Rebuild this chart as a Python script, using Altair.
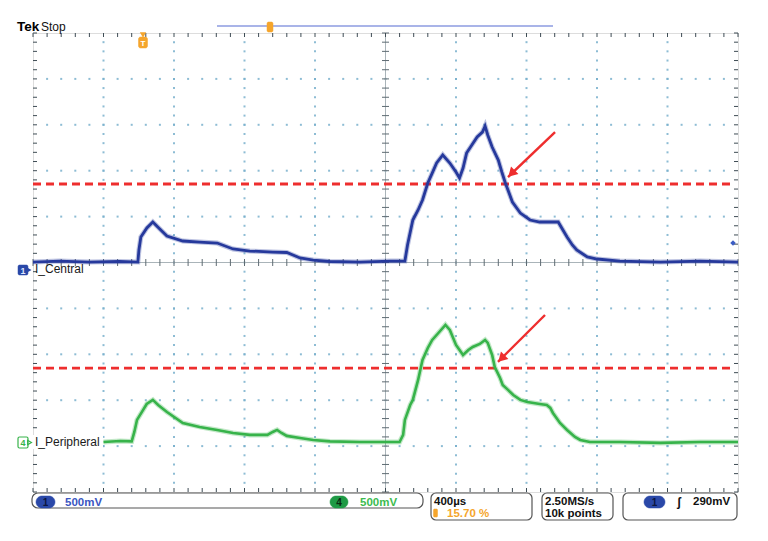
import altair as alt
import pandas as pd
import numpy as np

# ---------------- data (time in µs, probe voltage in mV) ----------------
ch1_time = [0, 150, 320, 490, 595, 601, 612, 646, 680, 708, 760, 850, 945, 1045, 1135, 1230,
            1360, 1440, 1475, 1515, 1590, 1685, 1855, 2025, 2110, 2125, 2155, 2185, 2210, 2240,
            2265, 2290, 2325, 2365, 2400, 2420, 2440, 2460, 2490, 2520, 2550, 2565, 2580, 2605,
            2640, 2660, 2680, 2720, 2765, 2820, 2875, 2915, 2980, 3000, 3030, 3060, 3085, 3145,
            3200, 3330, 3560, 3785, 4000]
ch1_mv = [5, 16, 5, 11, 5, 136, 278, 376, 441, 387, 289, 234, 223, 212, 147, 125,
          114, 109, 82, 49, 27, 11, 5, 16, 16, 191, 463, 572, 681, 866,
          974, 1084, 1171, 1084, 986, 920, 1029, 1192, 1280, 1367, 1421, 1486, 1389, 1258,
          1116, 986, 866, 659, 539, 463, 441, 441, 441, 376, 278, 191, 136, 60,
          38, 16, 5, 16, 5]

ch4_time = [400, 495, 560, 575, 590, 625, 645, 680, 710, 760, 850, 945, 1045, 1135, 1230, 1330,
            1360, 1385, 1410, 1440, 1515, 1590, 1685, 1855, 2080, 2100, 2110, 2140, 2155, 2185,
            2210, 2240, 2265, 2300, 2340, 2365, 2400, 2440, 2470, 2495, 2535, 2565, 2580, 2605,
            2620, 2650, 2665, 2695, 2725, 2765, 2805, 2875, 2915, 2935, 2950, 2990, 3030, 3075,
            3105, 3160, 3330, 3560, 3785, 4000]
ch4_mv = [5, 16, 11, 114, 245, 354, 419, 463, 408, 332, 212, 169, 136, 103, 82, 82,
          114, 136, 103, 71, 49, 27, 11, 5, 5, 82, 245, 408, 463, 681,
          898, 1029, 1116, 1192, 1280, 1225, 1062, 953, 1007, 1040, 1073, 1116, 1084, 953,
          822, 702, 626, 572, 517, 463, 441, 419, 408, 376, 321, 212, 136, 60,
          27, 5, 5, -5, 5, 5]

threshold_mv = [855, 810]            # red dashed levels (ch1, ch4)
arrow_tail_time = [2962, 2905]
arrow_tail_mv = [1421, 1388]
arrow_head_time = [2695, 2638]
arrow_head_mv = [931, 877]

# scope settings
VOLTS_PER_DIV = 500.0
US_PER_DIV = 400.0
ch_offset_div = [0.0, -3.92]         # ground position of ch1 / ch4 in divisions

W, H = 705, 459
xs = alt.Scale(domain=[0, 10 * US_PER_DIV], nice=False, zero=False)
ys = alt.Scale(domain=[-5, 5], nice=False, zero=False)


def X(f):
    return alt.X(f, type="quantitative", scale=xs, axis=None)


def Y(f):
    return alt.Y(f, type="quantitative", scale=ys, axis=None)


one = pd.DataFrame({"k": [0]})

# ---------------- tables ----------------
ch1 = pd.DataFrame({"t": ch1_time, "mv": ch1_mv})
ch1["div"] = ch1["mv"] / VOLTS_PER_DIV + ch_offset_div[0]
ch4 = pd.DataFrame({"t": ch4_time, "mv": ch4_mv})
ch4["div"] = ch4["mv"] / VOLTS_PER_DIV + ch_offset_div[1]

thr = pd.DataFrame({"div": [threshold_mv[0] / VOLTS_PER_DIV + ch_offset_div[0],
                            threshold_mv[1] / VOLTS_PER_DIV + ch_offset_div[1]]})

arrows = []
heads = []
for i in range(2):
    arrows.append({"id": i, "t": arrow_tail_time[i], "div": arrow_tail_mv[i] / VOLTS_PER_DIV + ch_offset_div[i]})
    arrows.append({"id": i, "t": arrow_head_time[i], "div": arrow_head_mv[i] / VOLTS_PER_DIV + ch_offset_div[i]})
    heads.append({"t": arrow_head_time[i], "div": arrow_head_mv[i] / VOLTS_PER_DIV + ch_offset_div[i]})
arrows = pd.DataFrame(arrows)
heads = pd.DataFrame(heads)

# graticule
minor_t = np.round(np.arange(0, 10 * US_PER_DIV + 1, US_PER_DIV / 5), 3)
minor_d = np.round(np.arange(-5, 5.001, 0.2), 3)
pts = []
for d in range(-4, 5):
    if d == 0:
        continue
    for t in minor_t[1:-1]:
        pts.append({"t": t, "div": d})
for k in range(1, 10):
    if k == 5:
        continue
    for d in minor_d[1:-1]:
        pts.append({"t": k * US_PER_DIV, "div": d})
grid = pd.DataFrame(pts)
tick_t = pd.DataFrame({"t": minor_t})
tick_d = pd.DataFrame({"div": minor_d})

BORDER = "#3e4c54"
TICK = "#5e6b72"
RED = "#ee2e2e"
BLUE = "#26399c"
GREEN = "#37b34a"
ORANGE = "#f5a52c"
FONT = "Liberation Sans"

layers = []
# grid dots
layers.append(alt.Chart(grid).mark_square(size=4, color="#79b0cd", opacity=0.85).encode(x=X("t"), y=Y("div")))
# center lines
layers.append(alt.Chart(pd.DataFrame({"t": [5 * US_PER_DIV]})).mark_rule(color="#aab4b9", strokeWidth=1)
              .encode(x=X("t"), y=alt.value(0), y2=alt.value(H)))
layers.append(alt.Chart(pd.DataFrame({"div": [0]})).mark_rule(color="#aab4b9", strokeWidth=1)
              .encode(y=Y("div"), x=alt.value(0), x2=alt.value(W)))
# ticks on center lines
layers.append(alt.Chart(tick_t).mark_rule(color=TICK, strokeWidth=1)
              .encode(x=X("t"), y=alt.value(H / 2 - 3.5), y2=alt.value(H / 2 + 3.5)))
layers.append(alt.Chart(tick_d).mark_rule(color=TICK, strokeWidth=1)
              .encode(y=Y("div"), x=alt.value(W / 2 - 3.5), x2=alt.value(W / 2 + 3.5)))
# ticks on borders
layers.append(alt.Chart(tick_t).mark_rule(color=BORDER, strokeWidth=1)
              .encode(x=X("t"), y=alt.value(0), y2=alt.value(4)))
layers.append(alt.Chart(tick_t).mark_rule(color=BORDER, strokeWidth=1)
              .encode(x=X("t"), y=alt.value(H - 4), y2=alt.value(H)))
layers.append(alt.Chart(tick_d).mark_rule(color=BORDER, strokeWidth=1)
              .encode(y=Y("div"), x=alt.value(0), x2=alt.value(4)))
layers.append(alt.Chart(tick_d).mark_rule(color=BORDER, strokeWidth=1)
              .encode(y=Y("div"), x=alt.value(W - 4), x2=alt.value(W)))
# red threshold lines
layers.append(alt.Chart(thr).mark_rule(color=RED, strokeWidth=2.8, strokeDash=[8, 5])
              .encode(y=Y("div"), x=alt.value(0), x2=alt.value(W - 6)))
# traces (a soft wide band under a solid core, like the noisy scope trace)
layers.append(alt.Chart(ch1).mark_line(color=BLUE, strokeWidth=5, opacity=0.3).encode(x=X("t"), y=Y("div")))
layers.append(alt.Chart(ch1).mark_line(color=BLUE, strokeWidth=2.8).encode(x=X("t"), y=Y("div")))
layers.append(alt.Chart(ch4).mark_line(color=GREEN, strokeWidth=5, opacity=0.3).encode(x=X("t"), y=Y("div")))
layers.append(alt.Chart(ch4).mark_line(color=GREEN, strokeWidth=2.6).encode(x=X("t"), y=Y("div")))
# arrows
layers.append(alt.Chart(arrows).mark_line(color=RED, strokeWidth=2.4)
              .encode(x=X("t"), y=Y("div"), detail="id:N"))
layers.append(alt.Chart(heads).mark_point(shape="triangle-up", angle=225, filled=True, size=110,
                                          color=RED, opacity=1, xOffset=3.5, yOffset=-3.5)
              .encode(x=X("t"), y=Y("div")))


def txt(s, x, y, color="#111111", size=12, weight="normal", align="left", font=FONT):
    return alt.Chart(one).mark_text(text=s, align=align, baseline="alphabetic", fontSize=size,
                                    fontWeight=weight, color=color, font=font).encode(
        x=alt.value(x), y=alt.value(y))


def box(x1, x2, y1, y2, fill="white", stroke="#555555", r=5, sw=1.2):
    return alt.Chart(one).mark_rect(fill=fill, stroke=stroke, strokeWidth=sw, cornerRadius=r).encode(
        x=alt.value(x1), x2=alt.value(x2), y=alt.value(y1), y2=alt.value(y2))


def pt(x, y, shape, color, size, filled=True, angle=0):
    return alt.Chart(one).mark_point(shape=shape, filled=filled, color=color, size=size, opacity=1,
                                     angle=angle, strokeWidth=1.2).encode(x=alt.value(x), y=alt.value(y))


# header
layers.append(txt("Tek", -16, -2, "#000000", 13.5, "bold"))
layers.append(txt("Stop", 8, -2, "#111111", 12))
layers.append(alt.Chart(one).mark_rule(color="#8c9be0", strokeWidth=1.5)
              .encode(x=alt.value(184), x2=alt.value(520), y=alt.value(-7)))
layers.append(box(234, 240, -11, -1, fill=ORANGE, stroke=ORANGE, r=1.5, sw=0.5))
# trigger position marker
layers.append(pt(110, 2, "triangle-down", ORANGE, 40))
layers.append(box(105.5, 114.5, 4, 15, fill=ORANGE, stroke=ORANGE, r=2, sw=0.5))
layers.append(txt("T", 110, 13, "white", 8, "bold", "center"))
# ch1 trigger level marker on right
layers.append(pt(700, 210, "diamond", "#3b5cc4", 30))

# channel ground markers and labels
layers.append(box(-15, -5, 232, 242, fill="#2a48a8", stroke="#2a48a8", r=1.5, sw=0.5))
layers.append(pt(-3.5, 237, "triangle-right", "#2a48a8", 22))
layers.append(txt("1", -10, 240.5, "#dfe6ff", 9, "bold", "center"))
layers.append(txt("I_Central", 2, 240, "#1a1a1a", 12))

layers.append(alt.Chart(pd.DataFrame({"k": [0]})).mark_rect(fill="white")
              .encode(x=alt.value(0), x2=alt.value(70), y=alt.value(402), y2=alt.value(416)))
layers.append(box(-15, -5, 404, 415, fill="white", stroke=GREEN, r=1.5, sw=1.2))
layers.append(pt(-3.5, 409.5, "triangle-right", GREEN, 20, filled=False))
layers.append(txt("4", -10, 413, GREEN, 9, "bold", "center"))
layers.append(txt("I_Peripheral", 2, 413, "#1a1a1a", 12))

# status bar
layers.append(box(-1, 390, 460, 475, r=6))
layers.append(box(3, 22, 463, 475, fill="#2a48a8", stroke="#2a48a8", r=6, sw=0.5))
layers.append(txt("1", 12.5, 473, "#0b1640", 10, "bold", "center"))
layers.append(txt("500mV", 32, 473, "#3a56c2", 11.5, "bold"))
layers.append(box(297, 315, 463, 475, fill="#1f9a45", stroke="#1f9a45", r=6, sw=0.5))
layers.append(txt("4", 306, 473, "#0b2a12", 10, "bold", "center"))
layers.append(txt("500mV", 327, 473, "#3dbb4f", 11.5, "bold"))

layers.append(box(398, 499, 460, 487, r=5))
layers.append(txt("400µs", 401, 472, "#111111", 11.5, "bold"))
layers.append(box(400.5, 404.5, 476, 484, fill=ORANGE, stroke=ORANGE, r=1, sw=0.5))
layers.append(txt("15.70 %", 414, 484, ORANGE, 11.5, "bold"))

layers.append(box(509, 580, 460, 487, r=5))
layers.append(txt("2.50MS/s", 512, 472, "#111111", 11.5, "bold"))
layers.append(txt("10k points", 512, 484, "#111111", 11.5, "bold"))

layers.append(box(590, 704, 460, 487, r=5))
layers.append(box(611, 632, 463, 475, fill="#2a48a8", stroke="#2a48a8", r=6, sw=0.5))
layers.append(txt("1", 621.5, 473, "#0b1640", 10, "bold", "center"))
layers.append(txt("ʃ", 646, 473, "#111111", 12, "bold", "center"))
layers.append(txt("290mV", 660, 472, "#111111", 11.5, "bold"))

chart = alt.layer(*layers).properties(
    width=W, height=H,
    autosize=alt.AutoSizeParams(type="none"),
    padding={"left": 25, "top": 25, "right": 20, "bottom": 35},
).configure_view(stroke=BORDER, strokeWidth=1.5).configure(background="white")

chart.save("out.html", embed_options={"renderer": "svg", "actions": False})
